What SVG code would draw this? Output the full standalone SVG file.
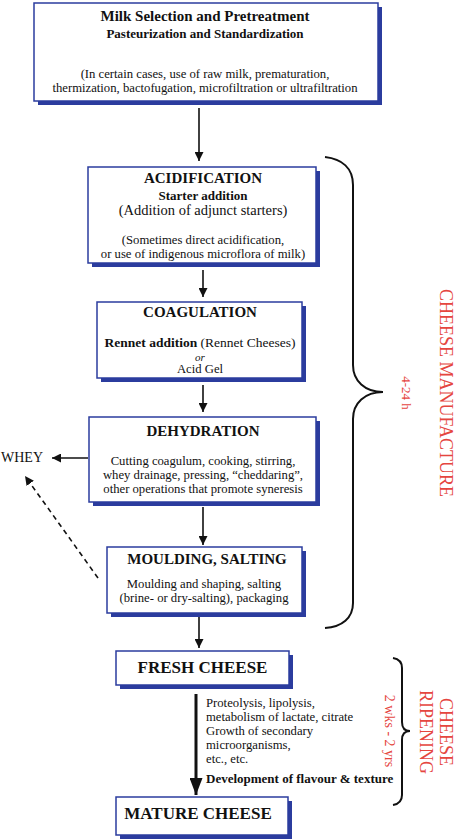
<svg xmlns="http://www.w3.org/2000/svg" width="455" height="840" viewBox="0 0 455 840" font-family="'Liberation Serif', 'Times New Roman', Times, serif">
<defs>
<style>
.shadow{fill:#2b3c9e}
.box{fill:#ffffff;stroke:#2b3c9e;stroke-width:1.5}
text{fill:#111}
.c{text-anchor:middle}
.b{font-weight:bold}
.s{font-size:12.7px}
.t{font-size:15px;font-weight:bold}
.red{fill:#e5463f}
.edge{stroke:#111;stroke-width:1.6;fill:none}
.brace{stroke:#111;stroke-width:2;fill:none}
</style>
<marker id="ah" viewBox="0 0 10 10" refX="10" refY="5" markerWidth="9" markerHeight="9" markerUnits="userSpaceOnUse" orient="auto">
<path d="M0,0 L10,5 L0,10 Z" fill="#111"/>
</marker>
<marker id="ahb" viewBox="0 0 10 10" refX="10" refY="5" markerWidth="17" markerHeight="13" markerUnits="userSpaceOnUse" orient="auto" preserveAspectRatio="none">
<path d="M0,0 L10,5 L0,10 Z" fill="#111"/>
</marker>
</defs>

<g id="milk">
<rect class="shadow" x="38" y="7" width="344" height="98"/>
<rect class="box" x="34" y="3" width="344" height="98"/>
<text class="c b" x="205" y="21" font-size="15">Milk Selection and Pretreatment</text>
<text class="c b" x="205" y="38" font-size="13">Pasteurization and Standardization</text>
<text class="c s" x="205" y="78">(In certain cases, use of raw milk, prematuration,</text>
<text class="c s" x="205" y="92">thermization, bactofugation, microfiltration or ultrafiltration</text>
</g>

<g id="acidification">
<rect class="shadow" x="92" y="171" width="228" height="96"/>
<rect class="box" x="88" y="167" width="228" height="96"/>
<text class="c t" x="203" y="183">ACIDIFICATION</text>
<text class="c b" x="203" y="200" font-size="13">Starter addition</text>
<text class="c" x="203" y="215" font-size="14.5">(Addition of adjunct starters)</text>
<text class="c s" x="203" y="244">(Sometimes direct acidification,</text>
<text class="c s" x="203" y="258">or use of indigenous microflora of milk)</text>
</g>

<g id="coagulation">
<rect class="shadow" x="101" y="306" width="205" height="76"/>
<rect class="box" x="97" y="302" width="205" height="76"/>
<text class="c t" x="200" y="317">COAGULATION</text>
<text class="c" x="200" y="347" font-size="13.5"><tspan font-weight="bold">Rennet addition</tspan> (Rennet Cheeses)</text>
<text class="c" x="200" y="361" font-size="11" font-style="italic">or</text>
<text class="c s" x="200" y="373">Acid Gel</text>
</g>

<g id="dehydration">
<rect class="shadow" x="93" y="421" width="227" height="85"/>
<rect class="box" x="89" y="417" width="227" height="85"/>
<text class="c t" x="203" y="436">DEHYDRATION</text>
<text class="c s" x="203" y="465">Cutting coagulum, cooking, stirring,</text>
<text class="c s" x="203" y="479">whey drainage, pressing, “cheddaring”,</text>
<text class="c s" x="203" y="493">other operations that promote syneresis</text>
</g>

<g id="moulding">
<rect class="shadow" x="111" y="551" width="195" height="66"/>
<rect class="box" x="107" y="547" width="195" height="66"/>
<text class="c t" x="207" y="564">MOULDING, SALTING</text>
<text class="c s" x="204" y="588">Moulding and shaping, salting</text>
<text class="c s" x="204" y="602">(brine- or dry-salting), packaging</text>
</g>

<g id="fresh">
<rect class="shadow" x="120" y="655" width="173" height="34"/>
<rect class="box" x="116" y="651" width="173" height="34"/>
<text class="c b" x="202.5" y="673" font-size="17">FRESH CHEESE</text>
</g>

<g id="mature">
<rect class="shadow" x="120" y="801" width="172" height="38"/>
<rect class="box" x="116" y="797" width="172" height="38"/>
<text class="c b" x="198" y="819" font-size="17">MATURE CHEESE</text>
</g>

<g id="whey">
<text x="1" y="462" font-size="14">WHEY</text>
</g>

<g id="connectors">
<line class="edge" x1="199" y1="108" x2="199" y2="161" marker-end="url(#ah)"/>
<line class="edge" x1="203" y1="270" x2="203" y2="297" marker-end="url(#ah)"/>
<line class="edge" x1="203" y1="385" x2="203" y2="412" marker-end="url(#ah)"/>
<line class="edge" x1="203" y1="507" x2="203" y2="545" marker-end="url(#ah)"/>
<line class="edge" x1="199" y1="617" x2="199" y2="648" marker-end="url(#ah)"/>
<line class="edge" x1="88" y1="458" x2="52" y2="458" marker-end="url(#ah)"/>
<line class="edge" x1="98" y1="578" x2="25" y2="476" stroke-dasharray="5,4" stroke-width="1.8" marker-end="url(#ah)"/>
<line x1="196" y1="694" x2="196" y2="795" stroke="#111" stroke-width="3" marker-end="url(#ahb)"/>
</g>

<g id="ripening-notes">
<text class="s" x="206" y="707">Proteolysis, lipolysis,</text>
<text class="s" x="206" y="721">metabolism of lactate, citrate</text>
<text class="s" x="206" y="735">Growth of secondary</text>
<text class="s" x="206" y="749">microorganisms,</text>
<text class="s" x="206" y="763">etc., etc.</text>
<text class="b" x="206" y="783" font-size="13">Development of flavour &amp; texture</text>
</g>

<g id="manufacture-brace">
<path class="brace" d="M325,157 C342,159 353,168 353,185 L353,365 C353,381 365,392 383,392 C365,392 353,403 353,419 L353,603 C353,618 342,627 325,628"/>
<text class="c red" transform="translate(440,393) rotate(90)" font-size="18">CHEESE MANUFACTURE</text>
<text class="c red" transform="translate(402,393) rotate(90)" font-size="13">4-24 h</text>
</g>

<g id="ripening-brace">
<path class="brace" d="M393,658 C399,659 402,662 402,668 L402,722 C402,728 405,731 410,731 C405,731 402,734 402,740 L402,795 C402,801 399,804 393,805"/>
<text class="c red" transform="translate(440,732) rotate(90)" font-size="18">CHEESE</text>
<text class="c red" transform="translate(420,732) rotate(90)" font-size="18">RIPENING</text>
<text class="c red" transform="translate(385,731) rotate(90)" font-size="14">2 wks - 2 yrs</text>
</g>
</svg>
